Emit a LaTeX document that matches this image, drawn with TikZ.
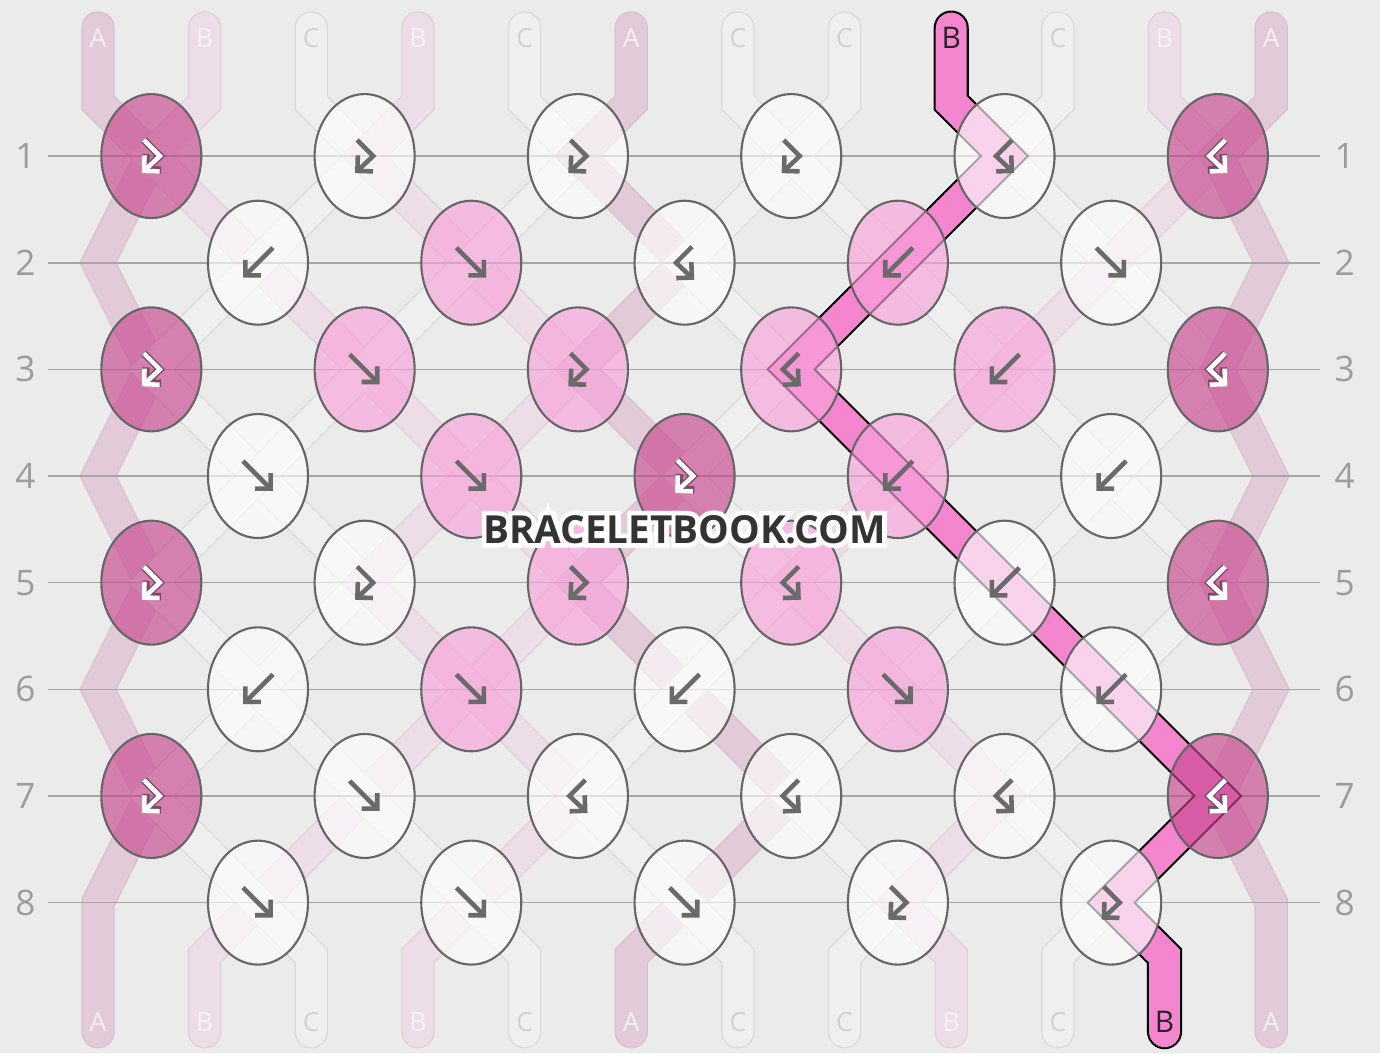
\documentclass[tikz,border=0pt]{standalone}
\usepackage{fontspec}
\setmainfont{Open Sans}
\newfontfamily\glowfont{Open Sans}[FakeBold=24]
\usetikzlibrary{arrows.meta, shapes.geometric}

\definecolor{paper}{HTML}{EBEBEB}
\definecolor{knotA}{HTML}{C8478F}
\definecolor{knotB}{HTML}{F8A2D9}
\definecolor{knotC}{HTML}{FDFDFD}
\definecolor{knotRim}{HTML}{666666}
\definecolor{strA}{HTML}{E2CAD8}
\definecolor{strAline}{HTML}{D8BFCE}
\definecolor{strB}{HTML}{EDDDE7}
\definecolor{strBline}{HTML}{E0CDD8}
\definecolor{strC}{HTML}{EFEFEF}
\definecolor{strCline}{HTML}{D8D8D8}
\definecolor{hotPink}{HTML}{F386CF}
\definecolor{arrGray}{HTML}{6A6A6A}
\definecolor{glyphRim}{HTML}{7A4A66}
\definecolor{rowGray}{HTML}{A6A6A6}
\definecolor{numGray}{HTML}{9C9C9C}
\definecolor{wmGray}{HTML}{333333}

% glyph paths (y grows downwards)
\def\glyphf{(-0.14,-0.14) -- (0.14,0.14)}
\def\glyphb{(0.14,-0.14) -- (-0.14,0.14)}
\def\glyphfb{(-0.07,-0.15) -- (0.08,0) -- (-0.09,0.16)}
\def\glyphbf{(0.07,-0.15) -- (-0.08,0) -- (0.09,0.16)}

\begin{document}
\begin{tikzpicture}[
  x=1.0665cm, y=-1.0665cm,
  strand/.style={line width=0.35pt, double distance=8.8pt, line cap=round, line join=miter},
  strandA/.style={strand, draw=strAline, double=strA},
  strandB/.style={strand, draw=strBline, double=strB},
  strandC/.style={strand, draw=strCline, double=strC},
  hilite/.style={line width=0.6pt, double distance=8.8pt, draw=black, double=hotPink, line cap=round, line join=miter},
  rowline/.style={draw=rowGray, line width=0.45pt},
  rownum/.style={text=numGray, font=\fontsize{10}{12}\selectfont, inner sep=0pt},
  endlbl/.style={font=\fontsize{7.5}{9}\selectfont, inner sep=0pt},
  lblA/.style={endlbl, text=white!70!strA},
  lblB/.style={endlbl, text=white!60!strB},
  lblC/.style={endlbl, text=black!18},
  lblhi/.style={endlbl, text=black!85, font=\fontsize{8.5}{10}\selectfont},
  knot/.style={ellipse, draw=knotRim, line width=0.6pt, minimum width=1cm, minimum height=1.24cm, inner sep=0pt, fill opacity=0.65},
  glyph/.style={line width=1.3pt, draw=arrGray, line join=miter, -{Straight Barb[length=1.1mm, width=2.2mm]}},
  glyphA/.style={glyph, draw=white, preaction={draw=glyphRim, line width=2.1pt}},
  glyphB/.style={glyph},
  glyphC/.style={glyph},
  wmark/.style={font=\fontsize{11}{13}\bfseries\selectfont, inner sep=0pt}
]
\useasboundingbox[fill=paper] (-0.9189,-0.4632) rectangle (12.0206,9.4102);

% string ends and knot points
\foreach \p in {1,...,12}{
  \coordinate (t\p) at ({\p-1},-0.2);
  \coordinate (tc\p) at ({\p-1},0.5);
  \coordinate (bc\p) at ({\p-1},8.5);
  \coordinate (b\p) at ({\p-1},9.21);
}
\foreach \r in {1,...,8}{
  \pgfmathtruncatemacro\nk{6-mod(\r+1,2)}
  \foreach \k in {1,...,\nk}
    \coordinate (p\r-\k) at ({2*\k-1.5+mod(\r+1,2)},\r);
}
\foreach \r in {2,4,6,8}{
  \coordinate (e1-\r) at (0,\r);
  \coordinate (e12-\r) at (11,\r);
}

% faded strings
\draw[strandA] (t1) -- (tc1) -- (p1-1) -- (e1-2) -- (p3-1) -- (e1-4) -- (p5-1) -- (e1-6) -- (p7-1) -- (e1-8) -- (b1);
\draw[strandB] (t2) -- (tc2) -- (p1-1) -- (p2-1) -- (p3-2) -- (p4-2) -- (p5-3) -- (p6-2) -- (p7-2) -- (p8-1) -- (bc2) -- (b2);
\draw[strandC] (t3) -- (tc3) -- (p1-2) -- (p2-1) -- (p3-1) -- (p4-1) -- (p5-2) -- (p6-1) -- (p7-1) -- (p8-1) -- (bc3) -- (b3);
\draw[strandB] (t4) -- (tc4) -- (p1-2) -- (p2-2) -- (p3-3) -- (p4-2) -- (p5-2) -- (p6-2) -- (p7-3) -- (p8-2) -- (bc4) -- (b4);
\draw[strandC] (t5) -- (tc5) -- (p1-3) -- (p2-2) -- (p3-2) -- (p4-1) -- (p5-1) -- (p6-1) -- (p7-2) -- (p8-2) -- (bc5) -- (b5);
\draw[strandA] (t6) -- (tc6) -- (p1-3) -- (p2-3) -- (p3-3) -- (p4-3) -- (p5-3) -- (p6-3) -- (p7-4) -- (p8-3) -- (bc6) -- (b6);
\draw[strandC] (t7) -- (tc7) -- (p1-4) -- (p2-3) -- (p3-4) -- (p4-3) -- (p5-4) -- (p6-3) -- (p7-3) -- (p8-3) -- (bc7) -- (b7);
\draw[strandC] (t8) -- (tc8) -- (p1-4) -- (p2-4) -- (p3-5) -- (p4-5) -- (p5-6) -- (p6-5) -- (p7-5) -- (p8-5) -- (bc10) -- (b10);
\draw[strandC] (t10) -- (tc10) -- (p1-5) -- (p2-5) -- (p3-6) -- (p4-5) -- (p5-5) -- (p6-4) -- (p7-4) -- (p8-4) -- (bc8) -- (b8);
\draw[strandB] (t11) -- (tc11) -- (p1-6) -- (p2-5) -- (p3-5) -- (p4-4) -- (p5-4) -- (p6-4) -- (p7-5) -- (p8-4) -- (bc9) -- (b9);
\draw[strandA] (t12) -- (tc12) -- (p1-6) -- (e12-2) -- (p3-6) -- (e12-4) -- (p5-6) -- (e12-6) -- (p7-6) -- (e12-8) -- (b12);

% row lines and numbers
\foreach \r in {1,...,8}{
  \draw[rowline] (-0.47,\r) -- (11.46,\r);
  \node[rownum] (nl\r) at (-0.68,\r) {\r};
  \node[rownum] (nr\r) at (11.69,\r) {\r};
}

% the picked string
\draw[hilite] (t9) -- (tc9) -- (p1-5) -- (p2-4) -- (p3-4) -- (p4-4) -- (p5-5) -- (p6-5) -- (p7-6) -- (p8-5) -- (bc11) -- (b11);

% knots: row/knot/colour/glyph
\foreach \r/\k/\c/\g in {
  1/1/A/fb, 1/2/C/fb, 1/3/C/fb, 1/4/C/fb, 1/5/C/bf, 1/6/A/bf,
  2/1/C/b, 2/2/B/f, 2/3/C/bf, 2/4/B/b, 2/5/C/f,
  3/1/A/fb, 3/2/B/f, 3/3/B/fb, 3/4/B/bf, 3/5/B/b, 3/6/A/bf,
  4/1/C/f, 4/2/B/f, 4/3/A/fb, 4/4/B/b, 4/5/C/b,
  5/1/A/fb, 5/2/C/fb, 5/3/B/fb, 5/4/B/bf, 5/5/C/b, 5/6/A/bf,
  6/1/C/b, 6/2/B/f, 6/3/C/b, 6/4/B/f, 6/5/C/b,
  7/1/A/fb, 7/2/C/f, 7/3/C/bf, 7/4/C/bf, 7/5/C/bf, 7/6/A/bf,
  8/1/C/f, 8/2/C/f, 8/3/C/f, 8/4/C/fb, 8/5/C/fb}{
  \node[knot, fill=knot\c] (k\r-\k) at (p\r-\k) {};
  \begin{scope}[shift={(p\r-\k)}]
    \draw[glyph\c] \csname glyph\g\endcsname;
  \end{scope}
}

% end labels
\foreach \p/\s in {1/A,2/B,3/C,4/B,5/C,6/A,7/C,8/C,10/C,11/B,12/A}
  \node[lbl\s] (tl\p) at ({\p-1},-0.107) {\s};
\foreach \p/\s in {1/A,2/B,3/C,4/B,5/C,6/A,7/C,8/C,9/B,10/C,12/A}
  \node[lbl\s] (bl\p) at ({\p-1},9.12) {\s};
\node[lblhi] (tl9) at (8,-0.107) {B};
\node[lblhi] (bl11) at (10,9.12) {B};

% watermark
\node[wmark, text=white, font=\fontsize{11}{13}\glowfont\bfseries\selectfont] (glow) at (5.5,4.5) {BRACELETBOOK.COM};
\node[wmark, text=wmGray] (wm) at (5.5,4.5) {BRACELETBOOK.COM};
\end{tikzpicture}
\end{document}
